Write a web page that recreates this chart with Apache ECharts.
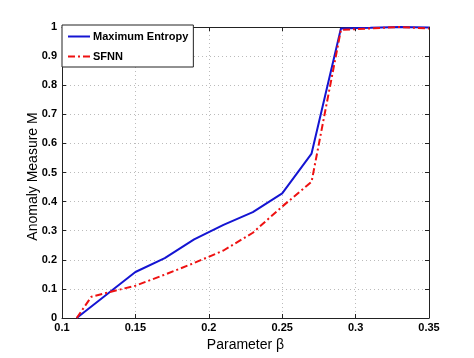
<!DOCTYPE html>
<html><head><meta charset="utf-8">
<script src="https://cdn.jsdelivr.net/npm/echarts@6/dist/echarts.min.js"></script>
<style>html,body{margin:0;padding:0;background:#fff}#c{width:474px;height:358px}</style>
</head><body><div id="c"></div>
<script>
const xTicks = [0.1, 0.15, 0.2, 0.25, 0.3, 0.35];
const yTicks = [0, 0.1, 0.2, 0.3, 0.4, 0.5, 0.6, 0.7, 0.8, 0.9, 1];
const maxEntX = [0.11, 0.15, 0.17, 0.19, 0.21, 0.23, 0.25, 0.27, 0.29, 0.31, 0.33, 0.35];
const maxEntY = [0, 0.158, 0.206, 0.27, 0.32, 0.364, 0.428, 0.565, 0.995, 0.997, 1.0, 0.998];
const sfnnX = [0.11, 0.12, 0.13, 0.15, 0.17, 0.19, 0.21, 0.23, 0.25, 0.27, 0.29, 0.31, 0.33, 0.35];
const sfnnY = [0, 0.073, 0.086, 0.111, 0.149, 0.189, 0.232, 0.293, 0.383, 0.468, 0.99, 0.995, 1.0, 0.995];

const font = 'Liberation Sans, Arial, sans-serif';
const chart = echarts.init(document.getElementById('c'), null, {renderer: 'canvas'});
const gridLine = {show: true, lineStyle: {color: '#bbb', type: [1, 3], width: 1}};
const baseAxis = {
  axisLine: {show: true, onZero: false, lineStyle: {color: '#222', width: 1}},
  axisTick: {show: true, inside: true, length: 4, lineStyle: {color: '#222'}},
};
chart.setOption({
  animation: false,
  grid: {left: 62, right: 45, top: 27, bottom: 40, containLabel: false},
  legend: {
    left: 62, top: 25, orient: 'vertical',
    data: ['Maximum Entropy', 'SFNN'],
    backgroundColor: '#fff', borderColor: '#222', borderWidth: 1, borderRadius: 0,
    padding: [6, 5, 5, 5], itemGap: 9, itemWidth: 22, itemHeight: 12,
    itemStyle: {opacity: 0},
    textStyle: {fontFamily: font, fontWeight: 'bold', fontSize: 11, color: '#000', padding: [0, 0, 0, -2]}
  },
  xAxis: [
    Object.assign({}, baseAxis, {
      type: 'value', min: 0.1, max: 0.35, interval: 0.05, position: 'bottom',
      splitLine: gridLine,
      axisLabel: {fontFamily: font, fontWeight: 'bold', fontSize: 11, color: '#000', margin: 4,
        formatter: v => String(+v.toFixed(2))},
      name: 'Parameter \u03B2', nameLocation: 'middle', nameGap: 15,
      nameTextStyle: {fontFamily: font, fontSize: 14, color: '#000'}
    }),
    Object.assign({}, baseAxis, {
      type: 'value', min: 0.1, max: 0.35, interval: 0.05, position: 'top',
      splitLine: {show: false}, axisLabel: {show: false}
    })
  ],
  yAxis: [
    Object.assign({}, baseAxis, {
      type: 'value', min: 0, max: 1, interval: 0.1, position: 'left',
      splitLine: gridLine,
      axisLabel: {fontFamily: font, fontWeight: 'bold', fontSize: 11, color: '#000', margin: 5,
        formatter: v => String(+v.toFixed(1))},
      name: 'Anomaly Measure M', nameLocation: 'middle', nameGap: 22, nameMoveOverlap: false,
      nameTextStyle: {fontFamily: font, fontSize: 14, color: '#000', padding: [0, 0, 0, -8]}
    }),
    Object.assign({}, baseAxis, {
      type: 'value', min: 0, max: 1, interval: 0.1, position: 'right',
      splitLine: {show: false}, axisLabel: {show: false}
    })
  ],
  series: [
    {
      name: 'Maximum Entropy', type: 'line', symbol: 'none', z: 3,
      data: maxEntX.map((x, i) => [x, maxEntY[i]]),
      lineStyle: {color: '#1414d2', width: 2}, itemStyle: {color: '#1414d2'}
    },
    {
      name: 'SFNN', type: 'line', symbol: 'none', z: 4,
      data: sfnnX.map((x, i) => [x, sfnnY[i]]),
      lineStyle: {color: '#ee1111', width: 2, type: [7, 3, 2, 3]}, itemStyle: {color: '#ee1111'}
    }
  ]
});
</script></body></html>
